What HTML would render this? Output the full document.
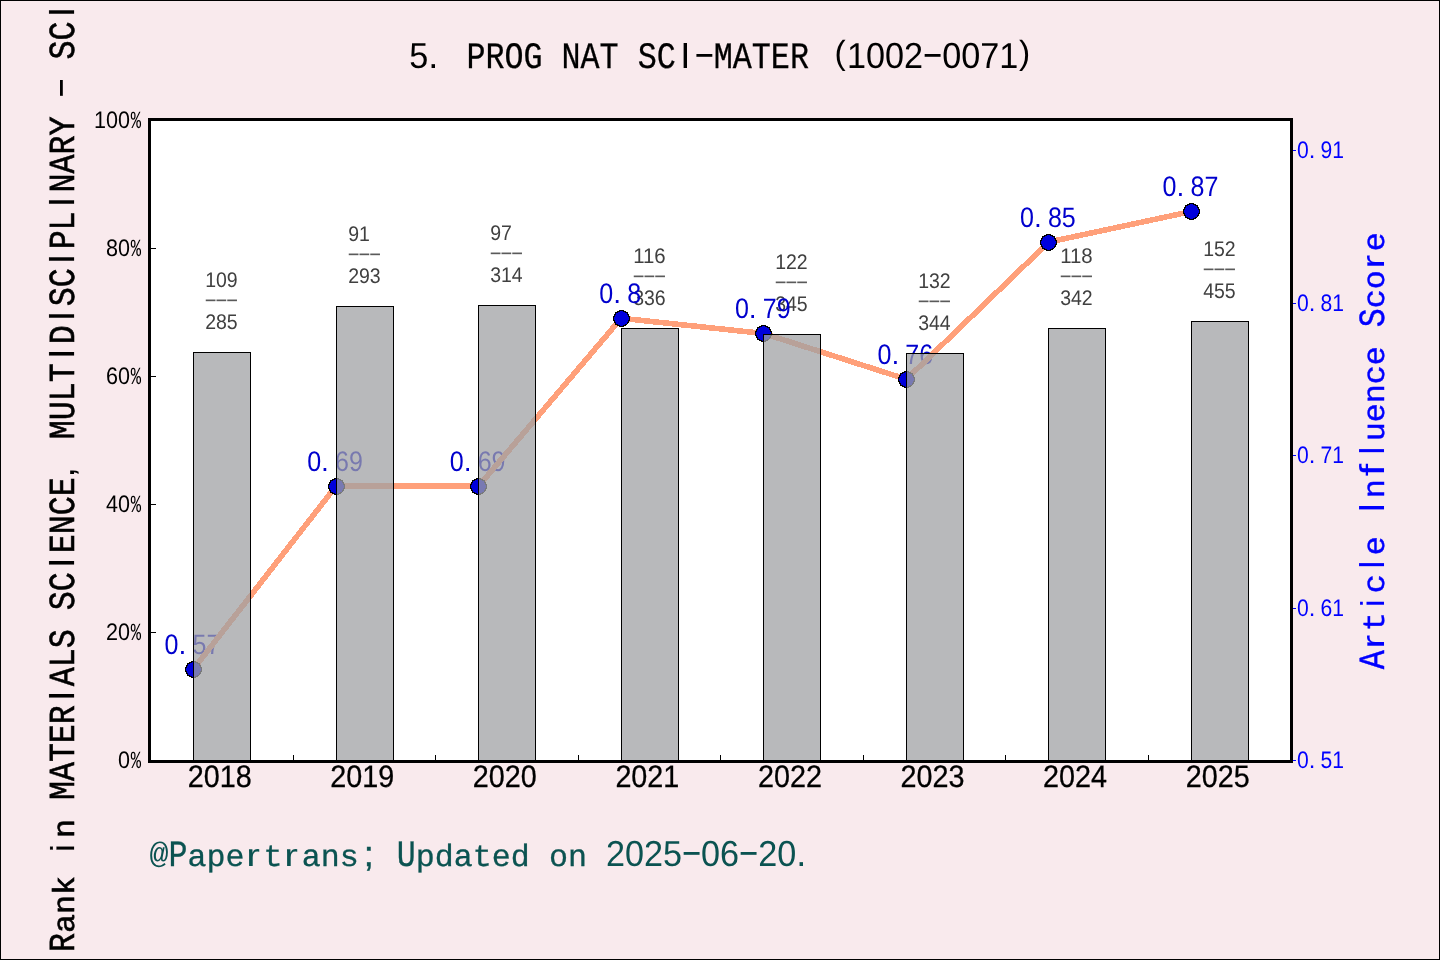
<!DOCTYPE html>
<html lang="en">
<head>
<meta charset="utf-8">
<title>5. PROG NAT SCI-MATER (1002-0071)</title>
<style>
html,body{margin:0;padding:0;background:#f9eaed;}
body{width:1440px;height:960px;overflow:hidden;font-family:"Liberation Sans",sans-serif;}
svg{display:block;}
text{white-space:pre;text-rendering:geometricPrecision;}
</style>
</head>
<body>
<svg width="1440" height="960" viewBox="0 0 1440 960" role="img" aria-label="5. PROG NAT SCI-MATER (1002-0071)">
<rect x="0" y="0" width="1440" height="960" fill="#f9eaed"/>
<rect x="0.5" y="0.5" width="1439" height="959" fill="none" stroke="#000" stroke-width="1"/>
<rect x="149.5" y="119.5" width="1142" height="642" fill="#fff"/>
<g id="bar-labels">
<text aria-label="109" font-family="'Liberation Sans',sans-serif" font-size="21.19" fill="#404040"><tspan x="205.14" y="287.2" textLength="32.52" lengthAdjust="spacingAndGlyphs">109</tspan></text>
<text aria-label="285" font-family="'Liberation Sans',sans-serif" font-size="21.19" fill="#404040"><tspan x="205.14" y="329.2" textLength="32.52" lengthAdjust="spacingAndGlyphs">285</tspan></text>
<text aria-label="---" font-family="'Liberation Sans',sans-serif" font-size="21.25" fill="#5a5a5a"><tspan x="203.93" y="305.8" textLength="13.26" lengthAdjust="spacingAndGlyphs">-</tspan><tspan x="214.77" y="305.8" textLength="13.26" lengthAdjust="spacingAndGlyphs">-</tspan><tspan x="225.61" y="305.8" textLength="13.26" lengthAdjust="spacingAndGlyphs">-</tspan></text>
<text aria-label="91" font-family="'Liberation Sans',sans-serif" font-size="21.19" fill="#404040"><tspan x="348.14" y="241.2" textLength="21.68" lengthAdjust="spacingAndGlyphs">91</tspan></text>
<text aria-label="293" font-family="'Liberation Sans',sans-serif" font-size="21.19" fill="#404040"><tspan x="348.14" y="283.2" textLength="32.52" lengthAdjust="spacingAndGlyphs">293</tspan></text>
<text aria-label="---" font-family="'Liberation Sans',sans-serif" font-size="21.25" fill="#5a5a5a"><tspan x="346.93" y="259.8" textLength="13.26" lengthAdjust="spacingAndGlyphs">-</tspan><tspan x="357.77" y="259.8" textLength="13.26" lengthAdjust="spacingAndGlyphs">-</tspan><tspan x="368.61" y="259.8" textLength="13.26" lengthAdjust="spacingAndGlyphs">-</tspan></text>
<text aria-label="97" font-family="'Liberation Sans',sans-serif" font-size="21.19" fill="#404040"><tspan x="490.14" y="240.2" textLength="21.68" lengthAdjust="spacingAndGlyphs">97</tspan></text>
<text aria-label="314" font-family="'Liberation Sans',sans-serif" font-size="21.19" fill="#404040"><tspan x="490.14" y="282.2" textLength="32.52" lengthAdjust="spacingAndGlyphs">314</tspan></text>
<text aria-label="---" font-family="'Liberation Sans',sans-serif" font-size="21.25" fill="#5a5a5a"><tspan x="488.93" y="258.8" textLength="13.26" lengthAdjust="spacingAndGlyphs">-</tspan><tspan x="499.77" y="258.8" textLength="13.26" lengthAdjust="spacingAndGlyphs">-</tspan><tspan x="510.61" y="258.8" textLength="13.26" lengthAdjust="spacingAndGlyphs">-</tspan></text>
<text aria-label="116" font-family="'Liberation Sans',sans-serif" font-size="21.19" fill="#404040"><tspan x="633.14" y="263.2" textLength="32.52" lengthAdjust="spacingAndGlyphs">116</tspan></text>
<text aria-label="336" font-family="'Liberation Sans',sans-serif" font-size="21.19" fill="#404040"><tspan x="633.14" y="305.2" textLength="32.52" lengthAdjust="spacingAndGlyphs">336</tspan></text>
<text aria-label="---" font-family="'Liberation Sans',sans-serif" font-size="21.25" fill="#5a5a5a"><tspan x="631.93" y="281.8" textLength="13.26" lengthAdjust="spacingAndGlyphs">-</tspan><tspan x="642.77" y="281.8" textLength="13.26" lengthAdjust="spacingAndGlyphs">-</tspan><tspan x="653.61" y="281.8" textLength="13.26" lengthAdjust="spacingAndGlyphs">-</tspan></text>
<text aria-label="122" font-family="'Liberation Sans',sans-serif" font-size="21.19" fill="#404040"><tspan x="775.14" y="269.2" textLength="32.52" lengthAdjust="spacingAndGlyphs">122</tspan></text>
<text aria-label="345" font-family="'Liberation Sans',sans-serif" font-size="21.19" fill="#404040"><tspan x="775.14" y="311.2" textLength="32.52" lengthAdjust="spacingAndGlyphs">345</tspan></text>
<text aria-label="---" font-family="'Liberation Sans',sans-serif" font-size="21.25" fill="#5a5a5a"><tspan x="773.93" y="287.8" textLength="13.26" lengthAdjust="spacingAndGlyphs">-</tspan><tspan x="784.77" y="287.8" textLength="13.26" lengthAdjust="spacingAndGlyphs">-</tspan><tspan x="795.61" y="287.8" textLength="13.26" lengthAdjust="spacingAndGlyphs">-</tspan></text>
<text aria-label="132" font-family="'Liberation Sans',sans-serif" font-size="21.19" fill="#404040"><tspan x="918.14" y="288.2" textLength="32.52" lengthAdjust="spacingAndGlyphs">132</tspan></text>
<text aria-label="344" font-family="'Liberation Sans',sans-serif" font-size="21.19" fill="#404040"><tspan x="918.14" y="330.2" textLength="32.52" lengthAdjust="spacingAndGlyphs">344</tspan></text>
<text aria-label="---" font-family="'Liberation Sans',sans-serif" font-size="21.25" fill="#5a5a5a"><tspan x="916.93" y="306.8" textLength="13.26" lengthAdjust="spacingAndGlyphs">-</tspan><tspan x="927.77" y="306.8" textLength="13.26" lengthAdjust="spacingAndGlyphs">-</tspan><tspan x="938.61" y="306.8" textLength="13.26" lengthAdjust="spacingAndGlyphs">-</tspan></text>
<text aria-label="118" font-family="'Liberation Sans',sans-serif" font-size="21.19" fill="#404040"><tspan x="1060.14" y="263.2" textLength="32.52" lengthAdjust="spacingAndGlyphs">118</tspan></text>
<text aria-label="342" font-family="'Liberation Sans',sans-serif" font-size="21.19" fill="#404040"><tspan x="1060.14" y="305.2" textLength="32.52" lengthAdjust="spacingAndGlyphs">342</tspan></text>
<text aria-label="---" font-family="'Liberation Sans',sans-serif" font-size="21.25" fill="#5a5a5a"><tspan x="1058.93" y="281.8" textLength="13.26" lengthAdjust="spacingAndGlyphs">-</tspan><tspan x="1069.77" y="281.8" textLength="13.26" lengthAdjust="spacingAndGlyphs">-</tspan><tspan x="1080.61" y="281.8" textLength="13.26" lengthAdjust="spacingAndGlyphs">-</tspan></text>
<text aria-label="152" font-family="'Liberation Sans',sans-serif" font-size="21.19" fill="#404040"><tspan x="1203.14" y="256.2" textLength="32.52" lengthAdjust="spacingAndGlyphs">152</tspan></text>
<text aria-label="455" font-family="'Liberation Sans',sans-serif" font-size="21.19" fill="#404040"><tspan x="1203.14" y="298.2" textLength="32.52" lengthAdjust="spacingAndGlyphs">455</tspan></text>
<text aria-label="---" font-family="'Liberation Sans',sans-serif" font-size="21.25" fill="#5a5a5a"><tspan x="1201.93" y="274.8" textLength="13.26" lengthAdjust="spacingAndGlyphs">-</tspan><tspan x="1212.77" y="274.8" textLength="13.26" lengthAdjust="spacingAndGlyphs">-</tspan><tspan x="1223.61" y="274.8" textLength="13.26" lengthAdjust="spacingAndGlyphs">-</tspan></text>
</g>
<g id="point-labels">
<text aria-label="0.57" font-family="'Liberation Sans',sans-serif" font-size="28.18" fill="#0000cd"><tspan x="164.6" y="653.9" textLength="13.95" lengthAdjust="spacingAndGlyphs">0</tspan><tspan x="178.55" y="653.9">.</tspan><tspan x="192.5" y="653.9" textLength="27.9" lengthAdjust="spacingAndGlyphs">57</tspan></text>
<text aria-label="0.69" font-family="'Liberation Sans',sans-serif" font-size="28.18" fill="#0000cd"><tspan x="307.17" y="470.9" textLength="13.95" lengthAdjust="spacingAndGlyphs">0</tspan><tspan x="321.12" y="470.9">.</tspan><tspan x="335.07" y="470.9" textLength="27.9" lengthAdjust="spacingAndGlyphs">69</tspan></text>
<text aria-label="0.69" font-family="'Liberation Sans',sans-serif" font-size="28.18" fill="#0000cd"><tspan x="449.74" y="470.9" textLength="13.95" lengthAdjust="spacingAndGlyphs">0</tspan><tspan x="463.69" y="470.9">.</tspan><tspan x="477.64" y="470.9" textLength="27.9" lengthAdjust="spacingAndGlyphs">69</tspan></text>
<text aria-label="0.8" font-family="'Liberation Sans',sans-serif" font-size="28.18" fill="#0000cd"><tspan x="599.29" y="303.15" textLength="13.95" lengthAdjust="spacingAndGlyphs">0</tspan><tspan x="613.24" y="303.15">.</tspan><tspan x="627.19" y="303.15" textLength="13.95" lengthAdjust="spacingAndGlyphs">8</tspan></text>
<text aria-label="0.79" font-family="'Liberation Sans',sans-serif" font-size="28.18" fill="#0000cd"><tspan x="734.88" y="318.4" textLength="13.95" lengthAdjust="spacingAndGlyphs">0</tspan><tspan x="748.83" y="318.4">.</tspan><tspan x="762.78" y="318.4" textLength="27.9" lengthAdjust="spacingAndGlyphs">79</tspan></text>
<text aria-label="0.76" font-family="'Liberation Sans',sans-serif" font-size="28.18" fill="#0000cd"><tspan x="877.45" y="364.15" textLength="13.95" lengthAdjust="spacingAndGlyphs">0</tspan><tspan x="891.4" y="364.15">.</tspan><tspan x="905.35" y="364.15" textLength="27.9" lengthAdjust="spacingAndGlyphs">76</tspan></text>
<text aria-label="0.85" font-family="'Liberation Sans',sans-serif" font-size="28.18" fill="#0000cd"><tspan x="1020.02" y="226.9" textLength="13.95" lengthAdjust="spacingAndGlyphs">0</tspan><tspan x="1033.97" y="226.9">.</tspan><tspan x="1047.92" y="226.9" textLength="27.9" lengthAdjust="spacingAndGlyphs">85</tspan></text>
<text aria-label="0.87" font-family="'Liberation Sans',sans-serif" font-size="28.18" fill="#0000cd"><tspan x="1162.59" y="196.4" textLength="13.95" lengthAdjust="spacingAndGlyphs">0</tspan><tspan x="1176.54" y="196.4">.</tspan><tspan x="1190.49" y="196.4" textLength="27.9" lengthAdjust="spacingAndGlyphs">87</tspan></text>
</g>
<polyline points="193.5,669 336.07,486 478.64,486 621.21,318.25 763.78,333.5 906.35,379.25 1048.92,242 1191.49,211.5" fill="none" stroke="#ffa07a" stroke-width="5.6" stroke-linejoin="round" shape-rendering="crispEdges"/>
<g fill="#0000dc" stroke="#000" stroke-width="1.2" shape-rendering="crispEdges">
<circle cx="193.5" cy="669.5" r="7.9"/>
<circle cx="336.5" cy="486.5" r="7.9"/>
<circle cx="478.5" cy="486.5" r="7.9"/>
<circle cx="621.5" cy="318.5" r="7.9"/>
<circle cx="763.5" cy="333.5" r="7.9"/>
<circle cx="906.5" cy="379.5" r="7.9"/>
<circle cx="1048.5" cy="242.5" r="7.9"/>
<circle cx="1191.5" cy="211.5" r="7.9"/>
</g>
<g fill="#a0a2a4" fill-opacity="0.75" stroke="#000" stroke-width="1">
<rect x="193.5" y="352.5" width="57" height="408"/>
<rect x="336.5" y="306.5" width="57" height="454"/>
<rect x="478.5" y="305.5" width="57" height="455"/>
<rect x="621.5" y="328.5" width="57" height="432"/>
<rect x="763.5" y="334.5" width="57" height="426"/>
<rect x="906.5" y="353.5" width="57" height="407"/>
<rect x="1048.5" y="328.5" width="57" height="432"/>
<rect x="1191.5" y="321.5" width="57" height="439"/>
</g>
<g stroke="#000" stroke-width="1">
<line x1="151" y1="248.5" x2="156" y2="248.5"/>
<line x1="151" y1="376.5" x2="156" y2="376.5"/>
<line x1="151" y1="504.5" x2="156" y2="504.5"/>
<line x1="151" y1="632.5" x2="156" y2="632.5"/>
<line x1="293.5" y1="755" x2="293.5" y2="760"/>
<line x1="435.5" y1="755" x2="435.5" y2="760"/>
<line x1="578.5" y1="755" x2="578.5" y2="760"/>
<line x1="720.5" y1="755" x2="720.5" y2="760"/>
<line x1="863.5" y1="755" x2="863.5" y2="760"/>
<line x1="1005.5" y1="755" x2="1005.5" y2="760"/>
<line x1="1148.5" y1="755" x2="1148.5" y2="760"/>
</g>
<g stroke="#00f" stroke-width="1">
<line x1="1293" y1="760.5" x2="1296" y2="760.5"/>
<line x1="1293" y1="608.5" x2="1296" y2="608.5"/>
<line x1="1293" y1="455.5" x2="1296" y2="455.5"/>
<line x1="1293" y1="303.5" x2="1296" y2="303.5"/>
<line x1="1293" y1="150.5" x2="1296" y2="150.5"/>
</g>
<rect x="149.5" y="119.5" width="1142" height="642" fill="none" stroke="#000" stroke-width="3"/>
<g id="left-ticks">
<text aria-label="100%" font-family="'Liberation Sans',sans-serif" font-size="23.88" fill="#000"><tspan x="94" y="128.1" textLength="36" lengthAdjust="spacingAndGlyphs">100</tspan><tspan x="130.84" y="128.1" font-family="'Liberation Mono',monospace" font-size="24.6" textLength="10.32" lengthAdjust="spacingAndGlyphs">%</tspan></text>
<text aria-label="80%" font-family="'Liberation Sans',sans-serif" font-size="23.88" fill="#000"><tspan x="106" y="256.1" textLength="24" lengthAdjust="spacingAndGlyphs">80</tspan><tspan x="130.84" y="256.1" font-family="'Liberation Mono',monospace" font-size="24.6" textLength="10.32" lengthAdjust="spacingAndGlyphs">%</tspan></text>
<text aria-label="60%" font-family="'Liberation Sans',sans-serif" font-size="23.88" fill="#000"><tspan x="106" y="384.1" textLength="24" lengthAdjust="spacingAndGlyphs">60</tspan><tspan x="130.84" y="384.1" font-family="'Liberation Mono',monospace" font-size="24.6" textLength="10.32" lengthAdjust="spacingAndGlyphs">%</tspan></text>
<text aria-label="40%" font-family="'Liberation Sans',sans-serif" font-size="23.88" fill="#000"><tspan x="106" y="512.1" textLength="24" lengthAdjust="spacingAndGlyphs">40</tspan><tspan x="130.84" y="512.1" font-family="'Liberation Mono',monospace" font-size="24.6" textLength="10.32" lengthAdjust="spacingAndGlyphs">%</tspan></text>
<text aria-label="20%" font-family="'Liberation Sans',sans-serif" font-size="23.88" fill="#000"><tspan x="106" y="640.1" textLength="24" lengthAdjust="spacingAndGlyphs">20</tspan><tspan x="130.84" y="640.1" font-family="'Liberation Mono',monospace" font-size="24.6" textLength="10.32" lengthAdjust="spacingAndGlyphs">%</tspan></text>
<text aria-label="0%" font-family="'Liberation Sans',sans-serif" font-size="23.88" fill="#000"><tspan x="118" y="768.1" textLength="12" lengthAdjust="spacingAndGlyphs">0</tspan><tspan x="130.84" y="768.1" font-family="'Liberation Mono',monospace" font-size="24.6" textLength="10.32" lengthAdjust="spacingAndGlyphs">%</tspan></text>
</g>
<g id="right-ticks">
<text aria-label="0.51" font-family="'Liberation Sans',sans-serif" font-size="23.85" fill="#00f"><tspan x="1297" y="768" textLength="11.75" lengthAdjust="spacingAndGlyphs">0</tspan><tspan x="1308.75" y="768">.</tspan><tspan x="1320.5" y="768" textLength="23.5" lengthAdjust="spacingAndGlyphs">51</tspan></text>
<text aria-label="0.61" font-family="'Liberation Sans',sans-serif" font-size="23.85" fill="#00f"><tspan x="1297" y="615.5" textLength="11.75" lengthAdjust="spacingAndGlyphs">0</tspan><tspan x="1308.75" y="615.5">.</tspan><tspan x="1320.5" y="615.5" textLength="23.5" lengthAdjust="spacingAndGlyphs">61</tspan></text>
<text aria-label="0.71" font-family="'Liberation Sans',sans-serif" font-size="23.85" fill="#00f"><tspan x="1297" y="463" textLength="11.75" lengthAdjust="spacingAndGlyphs">0</tspan><tspan x="1308.75" y="463">.</tspan><tspan x="1320.5" y="463" textLength="23.5" lengthAdjust="spacingAndGlyphs">71</tspan></text>
<text aria-label="0.81" font-family="'Liberation Sans',sans-serif" font-size="23.85" fill="#00f"><tspan x="1297" y="310.5" textLength="11.75" lengthAdjust="spacingAndGlyphs">0</tspan><tspan x="1308.75" y="310.5">.</tspan><tspan x="1320.5" y="310.5" textLength="23.5" lengthAdjust="spacingAndGlyphs">81</tspan></text>
<text aria-label="0.91" font-family="'Liberation Sans',sans-serif" font-size="23.85" fill="#00f"><tspan x="1297" y="158" textLength="11.75" lengthAdjust="spacingAndGlyphs">0</tspan><tspan x="1308.75" y="158">.</tspan><tspan x="1320.5" y="158" textLength="23.5" lengthAdjust="spacingAndGlyphs">91</tspan></text>
</g>
<g id="x-labels">
<text aria-label="2018" font-family="'Liberation Sans',sans-serif" font-size="31.04" fill="#000"><tspan x="187.69" y="786.7" stroke="#000" stroke-width="0.3" textLength="64" lengthAdjust="spacingAndGlyphs">2018</tspan></text>
<text aria-label="2019" font-family="'Liberation Sans',sans-serif" font-size="31.04" fill="#000"><tspan x="330.25" y="786.7" stroke="#000" stroke-width="0.3" textLength="64" lengthAdjust="spacingAndGlyphs">2019</tspan></text>
<text aria-label="2020" font-family="'Liberation Sans',sans-serif" font-size="31.04" fill="#000"><tspan x="472.82" y="786.7" stroke="#000" stroke-width="0.3" textLength="64" lengthAdjust="spacingAndGlyphs">2020</tspan></text>
<text aria-label="2021" font-family="'Liberation Sans',sans-serif" font-size="31.04" fill="#000"><tspan x="615.39" y="786.7" stroke="#000" stroke-width="0.3" textLength="64" lengthAdjust="spacingAndGlyphs">2021</tspan></text>
<text aria-label="2022" font-family="'Liberation Sans',sans-serif" font-size="31.04" fill="#000"><tspan x="757.96" y="786.7" stroke="#000" stroke-width="0.3" textLength="64" lengthAdjust="spacingAndGlyphs">2022</tspan></text>
<text aria-label="2023" font-family="'Liberation Sans',sans-serif" font-size="31.04" fill="#000"><tspan x="900.53" y="786.7" stroke="#000" stroke-width="0.3" textLength="64" lengthAdjust="spacingAndGlyphs">2023</tspan></text>
<text aria-label="2024" font-family="'Liberation Sans',sans-serif" font-size="31.04" fill="#000"><tspan x="1043.11" y="786.7" stroke="#000" stroke-width="0.3" textLength="64" lengthAdjust="spacingAndGlyphs">2024</tspan></text>
<text aria-label="2025" font-family="'Liberation Sans',sans-serif" font-size="31.04" fill="#000"><tspan x="1185.67" y="786.7" stroke="#000" stroke-width="0.3" textLength="64" lengthAdjust="spacingAndGlyphs">2025</tspan></text>
</g>
<text aria-label="5. PROG NAT SCI-MATER (1002-0071)" font-family="'Liberation Sans',sans-serif" font-size="36.16" fill="#000"><tspan x="409.3" y="68.4" textLength="19.03" lengthAdjust="spacingAndGlyphs">5</tspan><tspan x="428.33" y="68.4">.</tspan><tspan x="447.36" y="68.4" xml:space="preserve"> </tspan><tspan x="466.39" y="68.4" font-family="'Liberation Mono',monospace" font-size="37.3" stroke="#000" stroke-width="0.3" textLength="76.12" lengthAdjust="spacingAndGlyphs">PROG</tspan><tspan x="542.51" y="68.4" xml:space="preserve"> </tspan><tspan x="561.54" y="68.4" font-family="'Liberation Mono',monospace" font-size="37.3" stroke="#000" stroke-width="0.3" textLength="57.09" lengthAdjust="spacingAndGlyphs">NAT</tspan><tspan x="618.63" y="68.4" xml:space="preserve"> </tspan><tspan x="637.66" y="68.4" font-family="'Liberation Mono',monospace" font-size="37.3" stroke="#000" stroke-width="0.3" textLength="38.06" lengthAdjust="spacingAndGlyphs">SC</tspan><tspan x="680.19" y="68.4" font-size="36.35">I</tspan><tspan x="693.4" y="65.33" textLength="21.73" lengthAdjust="spacingAndGlyphs">-</tspan><tspan x="713.78" y="68.4" font-family="'Liberation Mono',monospace" font-size="37.3" stroke="#000" stroke-width="0.3" textLength="95.15" lengthAdjust="spacingAndGlyphs">MATER</tspan><tspan x="808.93" y="68.4" xml:space="preserve"> </tspan><tspan x="834.44" y="64.4" font-size="33.63">(</tspan><tspan x="846.99" y="68.4" textLength="76.12" lengthAdjust="spacingAndGlyphs">1002</tspan><tspan x="921.76" y="65.33" textLength="21.73" lengthAdjust="spacingAndGlyphs">-</tspan><tspan x="942.14" y="68.4" textLength="76.12" lengthAdjust="spacingAndGlyphs">0071</tspan><tspan x="1019.01" y="64.4" font-size="33.63">)</tspan></text>
<text aria-label="Rank in MATERIALS SCIENCE, MULTIDISCIPLINARY - SCI" font-family="'Liberation Sans',sans-serif" font-size="36.08" fill="#000" transform="translate(74.1 952) rotate(-90)"><tspan x="0" y="0" font-family="'Liberation Mono',monospace" font-size="36.65" stroke="#000" stroke-width="0.6" textLength="18.99" lengthAdjust="spacingAndGlyphs">R</tspan><tspan x="18.99" y="0" font-family="'Liberation Mono',monospace" font-size="30.42" stroke="#000" stroke-width="0.6" textLength="56.97" lengthAdjust="spacingAndGlyphs">ank</tspan><tspan x="75.96" y="0" xml:space="preserve"> </tspan><tspan x="100.21" y="0" font-size="33.04" stroke="#000" stroke-width="0.2">i</tspan><tspan x="113.94" y="0" font-family="'Liberation Mono',monospace" font-size="30.42" stroke="#000" stroke-width="0.6" textLength="18.99" lengthAdjust="spacingAndGlyphs">n</tspan><tspan x="132.93" y="0" xml:space="preserve"> </tspan><tspan x="151.92" y="0" font-family="'Liberation Mono',monospace" font-size="36.65" stroke="#000" stroke-width="0.6" textLength="94.95" lengthAdjust="spacingAndGlyphs">MATER</tspan><tspan x="251.33" y="0" font-size="36.27" stroke="#000" stroke-width="0.2">I</tspan><tspan x="265.86" y="0" font-family="'Liberation Mono',monospace" font-size="36.65" stroke="#000" stroke-width="0.6" textLength="56.97" lengthAdjust="spacingAndGlyphs">ALS</tspan><tspan x="322.83" y="0" xml:space="preserve"> </tspan><tspan x="341.82" y="0" font-family="'Liberation Mono',monospace" font-size="36.65" stroke="#000" stroke-width="0.6" textLength="37.98" lengthAdjust="spacingAndGlyphs">SC</tspan><tspan x="384.26" y="0" font-size="36.27" stroke="#000" stroke-width="0.2">I</tspan><tspan x="398.79" y="0" font-family="'Liberation Mono',monospace" font-size="36.65" stroke="#000" stroke-width="0.6" textLength="75.96" lengthAdjust="spacingAndGlyphs">ENCE</tspan><tspan x="474.75" y="0">,</tspan><tspan x="493.74" y="0" xml:space="preserve"> </tspan><tspan x="512.73" y="0" font-family="'Liberation Mono',monospace" font-size="36.65" stroke="#000" stroke-width="0.6" textLength="75.96" lengthAdjust="spacingAndGlyphs">MULT</tspan><tspan x="593.15" y="0" font-size="36.27" stroke="#000" stroke-width="0.2">I</tspan><tspan x="607.68" y="0" font-family="'Liberation Mono',monospace" font-size="36.65" stroke="#000" stroke-width="0.6" textLength="18.99" lengthAdjust="spacingAndGlyphs">D</tspan><tspan x="631.13" y="0" font-size="36.27" stroke="#000" stroke-width="0.2">I</tspan><tspan x="645.66" y="0" font-family="'Liberation Mono',monospace" font-size="36.65" stroke="#000" stroke-width="0.6" textLength="37.98" lengthAdjust="spacingAndGlyphs">SC</tspan><tspan x="688.1" y="0" font-size="36.27" stroke="#000" stroke-width="0.2">I</tspan><tspan x="702.63" y="0" font-family="'Liberation Mono',monospace" font-size="36.65" stroke="#000" stroke-width="0.6" textLength="37.98" lengthAdjust="spacingAndGlyphs">PL</tspan><tspan x="745.07" y="0" font-size="36.27" stroke="#000" stroke-width="0.2">I</tspan><tspan x="759.6" y="0" font-family="'Liberation Mono',monospace" font-size="36.65" stroke="#000" stroke-width="0.6" textLength="75.96" lengthAdjust="spacingAndGlyphs">NARY</tspan><tspan x="835.56" y="0" xml:space="preserve"> </tspan><tspan x="853.2" y="-3.07" textLength="21.68" lengthAdjust="spacingAndGlyphs">-</tspan><tspan x="873.54" y="0" xml:space="preserve"> </tspan><tspan x="892.53" y="0" font-family="'Liberation Mono',monospace" font-size="36.65" stroke="#000" stroke-width="0.6" textLength="37.98" lengthAdjust="spacingAndGlyphs">SC</tspan><tspan x="934.97" y="0" font-size="36.27" stroke="#000" stroke-width="0.2">I</tspan></text>
<text aria-label="Article Influence Score" font-family="'Liberation Sans',sans-serif" font-size="36.1" fill="#00f" transform="translate(1383.6 669.2) rotate(-90)"><tspan x="0" y="0" font-family="'Liberation Mono',monospace" font-size="36.86" stroke="#00f" stroke-width="0.45" textLength="19" lengthAdjust="spacingAndGlyphs">A</tspan><tspan x="20.65" y="0" font-size="31.54" stroke="#00f" stroke-width="0.05" textLength="13.65" lengthAdjust="spacingAndGlyphs">r</tspan><tspan x="38" y="0" font-family="'Liberation Mono',monospace" font-size="30.59" stroke="#00f" stroke-width="0.45" textLength="19" lengthAdjust="spacingAndGlyphs">t</tspan><tspan x="62.27" y="0" font-size="33.06" stroke="#00f" stroke-width="0.05">i</tspan><tspan x="76" y="0" font-family="'Liberation Mono',monospace" font-size="30.59" stroke="#00f" stroke-width="0.45" textLength="19" lengthAdjust="spacingAndGlyphs">c</tspan><tspan x="100.66" y="0" font-size="34.48" stroke="#00f" stroke-width="0.05">l</tspan><tspan x="114" y="0" font-family="'Liberation Mono',monospace" font-size="30.59" stroke="#00f" stroke-width="0.45" textLength="19" lengthAdjust="spacingAndGlyphs">e</tspan><tspan x="133" y="0" xml:space="preserve"> </tspan><tspan x="156.46" y="0" font-size="36.29" stroke="#00f" stroke-width="0.05">I</tspan><tspan x="171" y="0" font-family="'Liberation Mono',monospace" font-size="30.59" stroke="#00f" stroke-width="0.45" textLength="19" lengthAdjust="spacingAndGlyphs">n</tspan><tspan x="192.92" y="0" font-size="34.48" stroke="#00f" stroke-width="0.05" textLength="12.46" lengthAdjust="spacingAndGlyphs">f</tspan><tspan x="214.66" y="0" font-size="34.48" stroke="#00f" stroke-width="0.05">l</tspan><tspan x="228" y="0" font-family="'Liberation Mono',monospace" font-size="30.59" stroke="#00f" stroke-width="0.45" textLength="95" lengthAdjust="spacingAndGlyphs">uence</tspan><tspan x="323" y="0" xml:space="preserve"> </tspan><tspan x="342" y="0" font-family="'Liberation Mono',monospace" font-size="36.86" stroke="#00f" stroke-width="0.45" textLength="19" lengthAdjust="spacingAndGlyphs">S</tspan><tspan x="361" y="0" font-family="'Liberation Mono',monospace" font-size="30.59" stroke="#00f" stroke-width="0.45" textLength="38" lengthAdjust="spacingAndGlyphs">co</tspan><tspan x="400.65" y="0" font-size="31.54" stroke="#00f" stroke-width="0.05" textLength="13.65" lengthAdjust="spacingAndGlyphs">r</tspan><tspan x="418" y="0" font-family="'Liberation Mono',monospace" font-size="30.59" stroke="#00f" stroke-width="0.45" textLength="19" lengthAdjust="spacingAndGlyphs">e</tspan></text>
<text aria-label="@Papertrans; Updated on 2025-06-20." font-family="'Liberation Sans',sans-serif" font-size="36.14" fill="#0b5351"><tspan x="149.5" y="862.69" font-family="'Liberation Mono',monospace" font-size="29.82" textLength="19.02" lengthAdjust="spacingAndGlyphs">@</tspan><tspan x="168.52" y="866.3" font-family="'Liberation Mono',monospace" font-size="37.28" stroke="#0b5351" stroke-width="0.3" textLength="19.02" lengthAdjust="spacingAndGlyphs">P</tspan><tspan x="187.54" y="866.3" font-family="'Liberation Mono',monospace" font-size="30.94" stroke="#0b5351" stroke-width="0.3" textLength="57.06" lengthAdjust="spacingAndGlyphs">ape</tspan><tspan x="246.25" y="866.3" font-size="31.57" textLength="13.67" lengthAdjust="spacingAndGlyphs">r</tspan><tspan x="263.62" y="866.3" font-family="'Liberation Mono',monospace" font-size="30.94" stroke="#0b5351" stroke-width="0.3" textLength="19.02" lengthAdjust="spacingAndGlyphs">t</tspan><tspan x="284.29" y="866.3" font-size="31.57" textLength="13.67" lengthAdjust="spacingAndGlyphs">r</tspan><tspan x="301.66" y="866.3" font-family="'Liberation Mono',monospace" font-size="30.94" stroke="#0b5351" stroke-width="0.3" textLength="57.06" lengthAdjust="spacingAndGlyphs">ans</tspan><tspan x="363.67" y="866.3" stroke="#0b5351" stroke-width="0.4">;</tspan><tspan x="377.74" y="866.3" xml:space="preserve"> </tspan><tspan x="396.76" y="866.3" font-family="'Liberation Mono',monospace" font-size="37.28" stroke="#0b5351" stroke-width="0.3" textLength="19.02" lengthAdjust="spacingAndGlyphs">U</tspan><tspan x="415.78" y="866.3" font-family="'Liberation Mono',monospace" font-size="30.94" stroke="#0b5351" stroke-width="0.3" textLength="114.12" lengthAdjust="spacingAndGlyphs">pdated</tspan><tspan x="529.9" y="866.3" xml:space="preserve"> </tspan><tspan x="548.92" y="866.3" font-family="'Liberation Mono',monospace" font-size="30.94" stroke="#0b5351" stroke-width="0.3" textLength="38.04" lengthAdjust="spacingAndGlyphs">on</tspan><tspan x="586.96" y="866.3" xml:space="preserve"> </tspan><tspan x="605.98" y="866.3" textLength="76.08" lengthAdjust="spacingAndGlyphs">2025</tspan><tspan x="680.71" y="863.23" textLength="21.72" lengthAdjust="spacingAndGlyphs">-</tspan><tspan x="701.08" y="866.3" textLength="38.04" lengthAdjust="spacingAndGlyphs">06</tspan><tspan x="737.77" y="863.23" textLength="21.72" lengthAdjust="spacingAndGlyphs">-</tspan><tspan x="758.14" y="866.3" textLength="38.04" lengthAdjust="spacingAndGlyphs">20</tspan><tspan x="796.18" y="866.3">.</tspan></text>
</svg>
</body>
</html>
